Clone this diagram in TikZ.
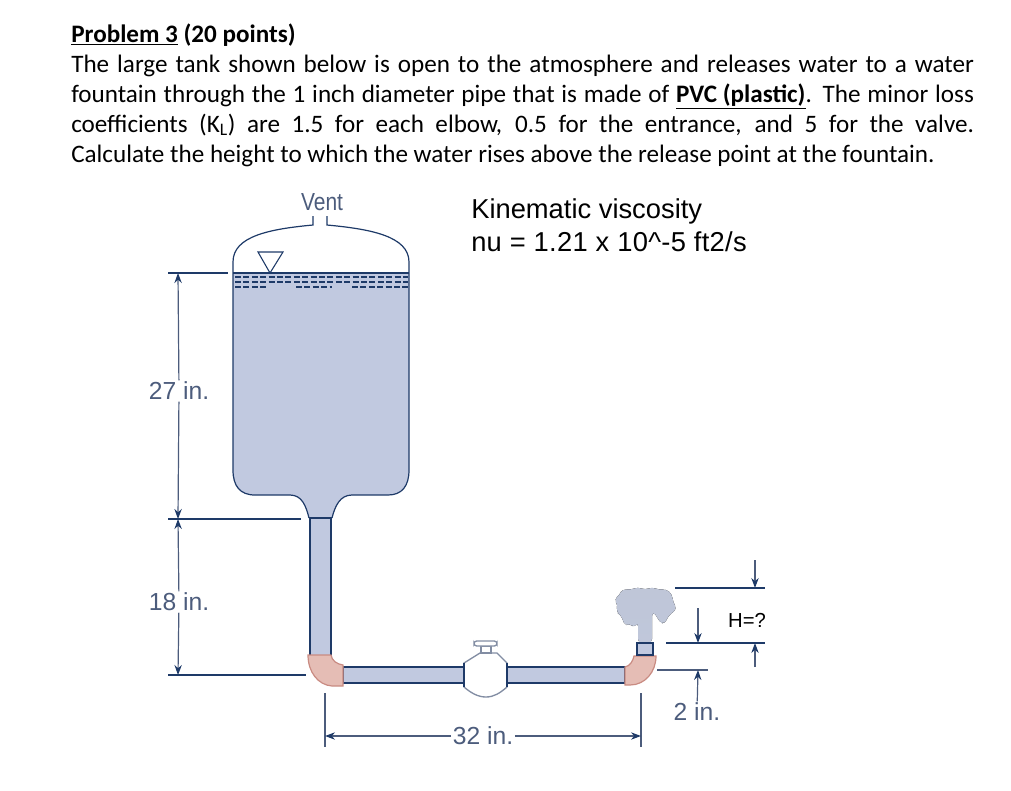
\documentclass[tikz,border=0pt]{standalone}
\usepackage{fontspec}
\usetikzlibrary{arrows.meta}
\setmainfont{Carlito}
\newfontfamily\labelfont{Liberation Sans}
\definecolor{waterblue}{HTML}{C1C9E0}
\definecolor{linenavy}{HTML}{1E3A68}
\definecolor{labelgrey}{HTML}{4C5C7C}
\definecolor{elbowpink}{HTML}{E5BDB5}
\definecolor{elbowline}{HTML}{C98B82}
\definecolor{sprayblue}{HTML}{BFC6D8}

\begin{document}
\begin{tikzpicture}[x=.75pt,y=-.75pt,>={Stealth[length=7.5pt,width=5.5pt]},
        wall/.style={draw=linenavy,line width=.9pt},
        pipe/.style={fill=waterblue,draw=linenavy,line width=.9pt},
        elbow/.style={fill=elbowpink,draw=elbowline,line width=.9pt},
        valve/.style={draw=labelgrey!70,line width=1pt,fill=white},
        extline/.style={draw=linenavy,line width=.9pt},
        dimline/.style={draw=labelgrey,line width=.9pt,->,>={Stealth[length=7.5pt,width=5.5pt,color=linenavy]}},
        dimlabel/.style={font=\labelfont\fontsize{18.5}{18.5}\selectfont,text=labelgrey,inner sep=1pt},
        bodytext/.style={font=\labelfont\fontsize{20.5}{24.75}\selectfont,anchor=north west,inner sep=0pt,align=left}]
    \useasboundingbox (0,0) rectangle (1011,790);

    % problem statement
    \node[anchor=north west,inner sep=0pt,text width=677pt,align=justify,
          font=\fontsize{18.85}{22.5}\selectfont] (statement) at (71,23.5)
        {\textbf{\underline{Problem 3} (20 points)}\\
        The large tank shown below is open to the atmosphere and releases water to a water\linebreak
        fountain through the 1 inch diameter pipe that is made of \textbf{\underline{PVC (plastic)}}. The minor loss\linebreak
        coefficients (K\textsubscript{L}) are 1.5 for each elbow, 0.5 for the entrance, and 5 for the valve.\linebreak
        Calculate the height to which the water rises above the release point at the fountain.};
    \node[bodytext] (viscosity) at (471,198) {Kinematic viscosity\\{\addfontfeature{LetterSpace=1.1}nu = 1.21 x 10\^{}-5 ft2/s}};

    % tank
    \fill[waterblue] (233,273) -- (233,470) .. controls (233,486) and (240,495) .. (255,495)
        -- (290,495) .. controls (302,495) and (306,506) .. (309,518) -- (332,518)
        .. controls (335,506) and (340,495) .. (352,495) -- (388,495)
        .. controls (402,495) and (409,486) .. (409,470) -- (409,273) -- cycle;
    \draw[wall] (313,216) -- (313,225) .. controls (270,229) and (233,236) .. (233,262)
        -- (233,470) .. controls (233,486) and (240,495) .. (255,495)
        -- (290,495) .. controls (302,495) and (306,506) .. (309,518);
    \draw[wall] (327,216) -- (327,225) .. controls (370,229) and (409,236) .. (409,262)
        -- (409,470) .. controls (409,486) and (402,495) .. (388,495)
        -- (352,495) .. controls (340,495) and (335,506) .. (332,518);
    \draw[wall,line width=1.1pt] (233,273) -- (409,273);
    \draw[wall,dash pattern=on 4.5pt off 1.8pt] (235,277) -- (408,277);
    \draw[wall,dash pattern=on 4.5pt off 1.8pt] (235,282) -- (408,282);
    \draw[wall,dash pattern=on 4.5pt off 1.8pt] (235,287) -- (268,287);
    \draw[wall,dash pattern=on 4.5pt off 1.8pt] (296,287) -- (332,287);
    \draw[wall,dash pattern=on 4.5pt off 1.8pt] (352,287) -- (408,287);
    \draw[wall,line width=.8pt] (258,252) -- (283,252) -- (270,273) -- cycle;

    % pipes
    \draw[pipe] (310,518) rectangle (331,656);
    \draw[pipe] (343,667) rectangle (464,683);
    \draw[pipe] (507,667) rectangle (625,683);

    % elbows
    \draw[elbow] (308,655) -- (331,655) .. controls (332,661) and (337,664) .. (343,665)
        -- (343,686) -- (332,686) .. controls (318,685) and (308,672) .. (308,655) -- cycle;
    \draw[elbow] (625,685) -- (625,667) .. controls (630,666) and (633,661) .. (634,656)
        -- (656,656) .. controls (656,672) and (645,685) .. (630,685) -- cycle;

    % valve
    \draw[valve] (464,663) -- (480,653) -- (497,653) -- (507,663) -- (507,687)
        .. controls (500,693) and (494,697) .. (486,697) .. controls (478,697) and (471,693) .. (464,687) -- cycle;
    \draw[wall,line width=1.1pt] (464,663) -- (464,687);
    \draw[wall,line width=1.1pt] (507,663) -- (507,687);
    \draw[valve] (481,646) rectangle (491,653);
    \draw[valve,rounded corners=2pt] (474,641) rectangle (497,646);

    % fountain
    \fill[top color=sprayblue,bottom color=sprayblue!70!waterblue,rounded corners=3pt] (652,643) -- (652,612)
        -- (656,614) -- (659,622) -- (665,624) -- (668,616) -- (677,609)
        -- (673,602) -- (672,594) -- (666,589) -- (659,590) -- (652,587)
        -- (645,590) -- (638,587) -- (630,590) -- (622,589) -- (620,595)
        -- (614,599) -- (618,605) -- (616,612) -- (621,615) -- (625,626)
        -- (630,623) -- (634,628) -- (638,622) -- (638,643) -- cycle;
    \draw[pipe] (637,643) rectangle (653,655);

    % dimensions on the left
    \coordinate (top27) at (178,273);
    \coordinate (mid) at (178,519);
    \coordinate (bot18) at (178,675);
    \node[dimlabel] (label27) at (179,391) {27 in.};
    \node[dimlabel] (label18) at (179,602) {18 in.};
    \draw[extline] (168,273) -- (228,273);
    \draw[extline] (168,519) -- (301,519);
    \draw[extline] (168,675) -- (306,675);
    \draw[dimline] (label27) -- (top27);
    \draw[dimline] (label27) -- (mid);
    \draw[dimline] (label18) -- (mid);
    \draw[dimline] (label18) -- (bot18);

    % dimension below
    \coordinate (leftend) at (325,736);
    \coordinate (rightend) at (641,736);
    \node[dimlabel] (label32) at (483,736) {32 in.};
    \draw[extline,draw=labelgrey] (325,693) -- (325,747);
    \draw[extline,draw=labelgrey] (641,693) -- (641,747);
    \draw[dimline] (label32) -- (leftend);
    \draw[dimline] (label32) -- (rightend);

    % dimensions at the fountain
    \coordinate (nozzletop) at (698,643);
    \coordinate (elbowtop) at (698,670);
    \coordinate (spraytop) at (755,588);
    \coordinate (hlow) at (755,643);
    \coordinate (startA) at (698,608);
    \coordinate (startB) at (755,560);
    \coordinate (startC) at (755,667);
    \node[dimlabel] (label2) at (697,712) {2 in.};
    \node[font=\labelfont\fontsize{15.2}{15.2}\selectfont,inner sep=1pt] (labelH) at (747,620) {H=?};
    \draw[extline] (675,588) -- (765,588);
    \draw[extline] (666,643) -- (765,643);
    \draw[extline,draw=labelgrey] (657,670) -- (708,670);
    \draw[dimline] (startA) -- (nozzletop);
    \draw[dimline] (startB) -- (spraytop);
    \draw[dimline] (startC) -- (hlow);
    \draw[dimline] (label2) -- (elbowtop);

    \node[dimlabel,xscale=.85,font=\labelfont\fontsize{18.5}{18.5}\selectfont] (vent) at (322,202) {Vent};
\end{tikzpicture}
\end{document}
